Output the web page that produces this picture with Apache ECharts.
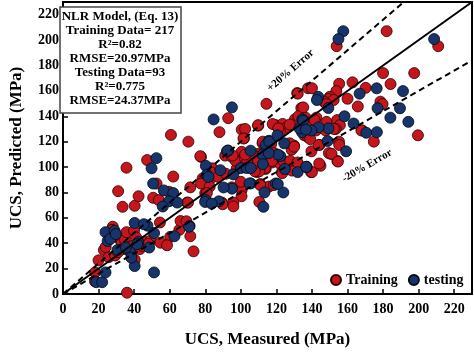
<!DOCTYPE html>
<html>
<head>
<meta charset="utf-8">
<script src="https://cdn.jsdelivr.net/npm/echarts@6/dist/echarts.min.js"></script>
<style>
  html, body { margin: 0; padding: 0; background: #fff; }
  #chart { width: 474px; height: 353px; }
</style>
</head>
<body>
<div id="chart"></div>
<script>
// eixos e rotulos
const axisMin = 0;
const axisMax = 230;
const axisStep = 20;
const xTitle = "UCS, Measured (MPa)";
const yTitle = "UCS, Predicted (MPa)";
const statsLines = [
  "NLR Model, (Eq. 13)",
  "Training Data= 217",
  "R\u00b2=0.82",
  "RMSE=20.97MPa",
  "Testing Data=93",
  "R\u00b2=0.775",
  "RMSE=24.37MPa"
];

// pontos de treino [medido, previsto]
const training = [
  [36,1],[18,17],[20,26.5],[18,10],[23,34.6],[25.7,29],[28,53],[29.3,30.3],[31.1,44],[33,40.4],
  [33.9,35.4],[34.8,43],[35.7,48.7],[39.9,49.8],[33.5,68.7],[40.3,69.5],[40.3,27],[37.5,37.4],[39.3,37.9],[38.4,31.6],
  [43.2,35.4],[44.8,37.9],[46,41],[49.3,42.2],[48,39.5],[54.8,40.4],[54.5,56.3],[60.3,45],[65.4,50.5],[66.1,57.5],
  [69.4,57.3],[71.6,45.5],[58.5,38.4],[73.4,33.6],[27.5,50.5],[28.4,45.5],[31,33],[24,37],[41.1,44.7],[26,47],
  [35.7,99.5],[47.3,105.5],[60.7,125.3],[70.5,120],[77.6,108],[88,127.5],[92.9,138.5],[100.5,129.5],[101.8,122.6],[91.2,109],
  [95,108],[100.5,112],[99.5,105],[84,99],[31,81],[42.5,77],[59.6,80.5],[62,92.5],[52.6,87],[71.6,84],
  [50.7,75.8],[53.9,74],[69.8,72],[80,79.5],[84,92],[89.4,72],[100.5,82],[100.4,77],[83,96],[78.5,91],
  [77.6,87],[82.5,84.6],[87.3,92.2],[91.6,94.7],[97.6,98.5],[109.1,96],[114,98.5],[117.6,103.6],[122.2,102.3],[127.7,98.5],
  [132.2,102.3],[139.5,96],[123.1,96],[70.3,72],[94.9,84],[100,88.4],[110.9,86.6],[115.8,84.6],[118.6,85.8],[80.9,79.5],
  [89.8,70.7],[95.8,72],[95.8,69],[110.4,72.5],[110.9,85.8],[113.6,99.2],[110.5,96.7],[107.8,96.7],[123.3,95.2],[128.8,97.2],
  [144.8,101],[101,104],[103,107],[106,106],[108,103],[110,107],[112,105],[104,101.5],[97,105],[106,111],
  [109.8,132.6],[114.4,149.8],[131.7,158.3],[137.8,162.1],[140,162.1],[134,146.5],[134.6,140.2],[130.4,137.6],[132.2,136.4],[136.4,138.9],
  [129.9,116.9],[117.1,118.2],[112.2,118.7],[109.8,110.4],[102.2,107.3],[107.6,108.6],[103.6,103.6],[95.4,109.1],[92.2,112.4],[77.2,108.6],
  [119.5,107.3],[124,104.8],[127.7,104.8],[131.9,103.6],[128.6,113.6],[119.7,133],[123.5,134],[125.5,131],[127.5,133.5],[122,128],
  [109.7,133],[102.4,130],[101.5,122.5],[112.4,120],[118.7,111],[102.4,109.8],[109.7,104.8],[117.5,104.8],[135.7,125],[127.5,118.7],
  [117.9,133.9],[121.1,130.5],[135.1,133.9],[138.2,135],[142.5,138.9],[132.4,140],[141.5,137],[148.2,135.6],[154.2,137],[155.7,133],
  [153.4,130],[168.3,128.8],[174.8,120],[150.6,110.4],[154.3,104.8],[155.2,120],[155.3,117.4],[144.3,117.4],[139.7,112.4],[137,100.2],
  [130,116],[143.7,117.4],[149.5,111],[151,110.4],[154.6,104.3],[144.1,102.8],[140,96],[137.7,123.7],[139,122],[142.3,128.8],
  [147.7,128.8],[152.3,130],[167.8,128.8],[199.6,125],
  [153.9,195.2],[182,207],[211,195.2],[180,174],[197.5,174],[184.2,165.4],[170.2,162.4],[162.8,166.7],[155.3,165.6],[153.7,159.8],
  [160,153.8],[150,155.3],[149.5,153.6],[152.2,152.8],[146.8,151.5],[148.1,149.5],[165.8,147.7],[178.5,151.5],[179.7,149.6],[135.1,147],
  [132,157.8]
];

// pontos de teste
const testing = [
  [52.5,107],[49.8,99],[84.7,137.5],[95,147],[92.9,113],[80.3,101],[88.5,97.5],[56.7,81.6],[62,79.5],[59.6,73],
  [50.7,87],[56.1,68.9],[64.3,72],[80.3,74],[80.9,94],[87.6,73],[95,83],[100,99.2],[40.3,56],[23.9,48.7],
  [47.5,53.8],[45.5,55],[42.4,41],[48.5,36.6],[51.2,48],[62.7,45.5],[71.2,53.6],[51.2,17],[40.3,22],[18.7,9.3],
  [22,9.3],[23.9,17],[25.1,41.7],[26.6,43.4],[29,49.8],[29.7,47.2],[30.6,34.6],[37.5,34],[38.4,28.6],[41.7,39.2],
  [35.3,36.6],[103.3,99.2],[105.6,99.2],[105.6,87.1],[113.3,80],[119.7,87.1],[123.9,80],[112.7,68.7],[124.7,98.5],[132,96],
  [137,99.8],[81.8,92.2],[95.8,94.2],[122.2,108.6],[90.3,83.9],[104.9,87.1],[120.8,86.6],[79.9,72.5],[83.6,71.2],[70.9,53],
  [134.6,137.6],[134.4,127.5],[115.8,120.7],[114,117.4],[124.4,118.7],[105.5,112.9],[112.2,109.8],[92.5,112.9],[120.9,109.8],[116,120],
  [115.7,111],[112.4,102.3],[120.6,125],[149.3,130.5],[143.7,131.3],[148.8,120.5],[139.7,128.8],[133,130.5],[159.2,112.4],[158.3,140],
  [163.4,134.3],[170.6,127],[176.5,127.5],[184.1,138.9],[194.2,135.6],[189.5,146.3],[176.9,146.3],[149.2,146.5],[143.5,155.3],[142.8,152.8],
  [166.8,157.8],[176.4,162],[191.2,159.8],[157.6,207],[154.9,200.8],[208.7,200.8],[135,136.4],[136.6,129.5],[136.8,100.2]
];

// linhas de referencia
const perfectLine = [[0,0],[230,230]];
const plusLine = [[0,0],[230/1.2,230]];
const minusLine = [[0,0],[230,230*0.8]];
const plusLabelAt = [128,176];
const minusLabelAt = [171,101];

const serif = "'Liberation Serif', 'Times New Roman', serif";
const chart = echarts.init(document.getElementById("chart"));

const axisCommon = {
  type: "value",
  min: axisMin,
  max: axisMax,
  interval: axisStep,
  nameLocation: "middle",
  nameTextStyle: { fontFamily: serif, fontWeight: "bold", fontSize: 17, color: "#000" },
  axisLine: { show: true, lineStyle: { color: "#000", width: 2 } },
  axisTick: { show: true, inside: true, length: 5, lineStyle: { color: "#000", width: 1.5 } },
  axisLabel: { fontFamily: serif, fontWeight: "bold", fontSize: 14, color: "#000", showMaxLabel: false },
  splitLine: { show: false }
};

chart.setOption({
  animation: false,
  grid: { left: 53, right: 2, top: 2, bottom: 48, show: true, borderColor: "#000", borderWidth: 2 },
  xAxis: Object.assign({}, axisCommon, {
    name: xTitle, nameGap: 37,
    axisLabel: Object.assign({}, axisCommon.axisLabel, { margin: 8 })
  }),
  yAxis: Object.assign({}, axisCommon, {
    name: yTitle, nameGap: 38,
    axisLabel: Object.assign({}, axisCommon.axisLabel, { margin: 4 })
  }),
  legend: {
    orient: "horizontal",
    left: 330, top: 273, width: 150, padding: 0,
    itemWidth: 10, itemHeight: 10, itemGap: 10,
    textStyle: { fontFamily: serif, fontWeight: "bold", fontSize: 14, color: "#000" },
    data: [{ name: "Training", icon: "circle" }, { name: "testing", icon: "circle" }]
  },
  series: [
    { type: "line", data: perfectLine, symbol: "none", silent: true, lineStyle: { color: "#000", width: 2 } },
    { type: "line", data: plusLine, symbol: "none", silent: true, lineStyle: { color: "#000", width: 2, type: [6, 4] } },
    { type: "line", data: minusLine, symbol: "none", silent: true, lineStyle: { color: "#000", width: 2, type: [6, 4] } },
    { name: "Training", type: "scatter", data: training, symbolSize: 11,
      itemStyle: { color: "#c4161c", borderColor: "#2a0000", borderWidth: 0.8, opacity: 1 } },
    { name: "testing", type: "scatter", data: testing, symbolSize: 11,
      itemStyle: { color: "#17346b", borderColor: "#000814", borderWidth: 0.8, opacity: 1 } }
  ]
});

// caixa de estatisticas + rotulos de erro
const p1 = chart.convertToPixel({ gridIndex: 0 }, plusLabelAt);
const p2 = chart.convertToPixel({ gridIndex: 0 }, minusLabelAt);
const lineGap = 14;
const boxTexts = statsLines.map((t, i) => ({
  type: "text",
  x: 120, y: 17 + i * lineGap, z: 20,
  style: { text: t, fill: "#000", font: "bold 13px " + serif, textAlign: "center", textVerticalAlign: "middle" }
}));

chart.setOption({
  graphic: [
    { type: "rect", shape: { x: 60, y: 7, width: 121, height: 106 },
      style: { fill: "#fff", stroke: "#444", lineWidth: 1.5 }, z: 10 }
  ].concat(boxTexts, [
    { type: "text", x: p1[0], y: p1[1], rotation: 41 * Math.PI / 180, z: 11,
      style: { text: "+20% Error", fill: "#000", font: "bold 11px " + serif, textAlign: "center", textVerticalAlign: "middle" } },
    { type: "text", x: p2[0], y: p2[1], rotation: 30 * Math.PI / 180, z: 11,
      style: { text: "-20% Error", fill: "#000", font: "bold 11px " + serif, textAlign: "center", textVerticalAlign: "middle" } }
  ])
});
</script>
</body>
</html>
